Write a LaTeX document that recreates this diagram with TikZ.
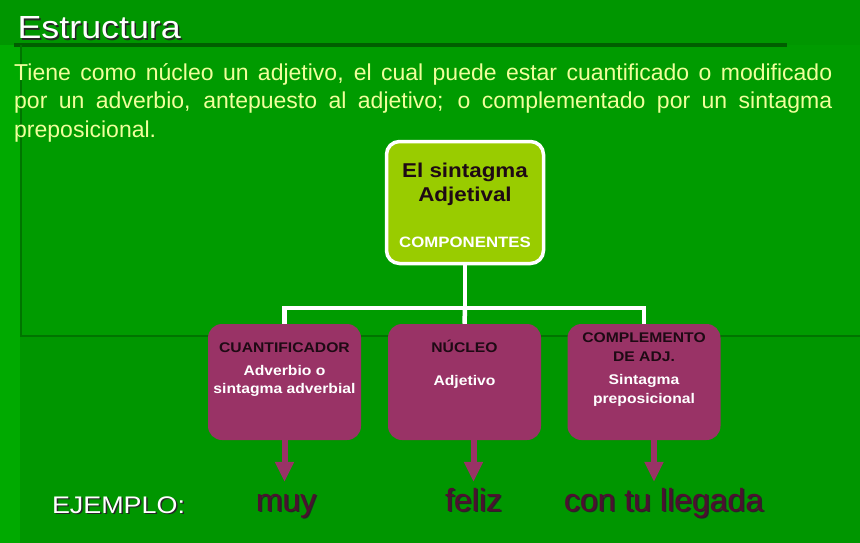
\documentclass[tikz,border=0pt]{standalone}
\usepackage{fontspec}
\setmainfont[FakeStretch=1.12]{Liberation Sans}
\newfontfamily\plainfont{Liberation Sans}
\usetikzlibrary{arrows.meta,positioning}

\definecolor{field}{HTML}{009600}
\definecolor{upper}{HTML}{009B00}
\definecolor{strip}{HTML}{00AA00}
\definecolor{rim}{HTML}{007400}
\definecolor{bar}{HTML}{005E00}
\definecolor{leaf}{HTML}{99CC00}
\definecolor{plum}{HTML}{993366}
\definecolor{wine}{HTML}{4E1030}
\definecolor{cream}{HTML}{F0FF9C}
\definecolor{ink}{HTML}{1E0A14}

\begin{document}
\begin{tikzpicture}[
x=1pt,y=-1pt,
>=stealth,
head/.style={rectangle,rounded corners=13pt,draw=white,line width=3.5pt,fill=leaf,minimum width=157pt,minimum height=122pt,inner sep=0pt,align=center},
thing/.style={rectangle,rounded corners=14pt,fill=plum,minimum width=153pt,minimum height=116pt,inner sep=0pt},
txt/.style={align=center,text=white,font=\bfseries\fontsize{14}{18.5}\selectfont},
line/.style={draw=white,line width=4.5pt},
line2/.style={draw=plum,line width=6pt,-{Triangle[width=18pt,length=20pt]}},
word/.style={anchor=base,inner sep=0pt,text height=29pt,text=wine,font=\plainfont\fontsize{32}{36}\selectfont},
ghost/.style={text=black!85,xshift=1.5pt,yshift=-1.5pt}
]

\useasboundingbox (0,0) rectangle (860,543);

% backdrop
\fill[field] (0,0) rectangle (860,543);
\fill[upper] (21,45) rectangle (860,336);
\fill[strip] (0,45) rectangle (20,543);
\draw[bar,line width=4pt] (14,45) -- (787,45);
\draw[rim,line width=2pt] (21,45) -- (21,336) -- (860,336);

% heading and text
\node[ghost,anchor=base west,font=\fontsize{32}{36}\selectfont] at (14,39) {Estructura};
\node (title) [anchor=base west,text=white,font=\fontsize{32}{36}\selectfont] at (14,39) {Estructura};
\node (p) [anchor=north west,inner sep=0pt,text width=818pt,align=justify,text=cream,font=\plainfont\fontsize{23}{28.5}\selectfont] at (14,63)
{Tiene como núcleo un adjetivo, el cual puede estar cuantificado o modificado\linebreak por un adverbio, antepuesto al adjetivo; o complementado por un sintagma\linebreak preposicional.};

% diagram
\node[head] (top) at (465,202.5) {};
\node (top1) at (465,205) [align=center,text=ink,font=\bfseries\fontsize{20}{24}\selectfont] {El sintagma\\ Adjetival\\[22pt] \textcolor{white}{\fontsize{15}{18}\selectfont COMPONENTES}};

\node[thing] (1) at (284.5,382) {};
\node[thing] (2) at (464.5,382) {};
\node[thing] (3) at (644,382) {};

\coordinate (f) at (465,308);
\path[line] (top.south) -- (f);
\path[line] (f) -| (1.north);
\path[line] (f) -- (2.north);
\path[line] (f) -| (3.north);

\node[txt] (t1) at (284.5,370) {\textcolor{ink}{CUANTIFICADOR}\\[4pt] Adverbio o\\ sintagma adverbial};
\node[txt] (t2) at (464.5,364) {\textcolor{ink}{NÚCLEO}\\[14pt] Adjetivo};
\node[txt] (t3) at (644,369.5) {\textcolor{ink}{COMPLEMENTO}\\ \textcolor{ink}{DE ADJ.}\\[5pt] Sintagma\\ preposicional};

% examples
\node[ghost,anchor=base,font=\fontsize{24}{28}\selectfont] at (118.5,513) {EJEMPLO:};
\node (ej) [anchor=base,text=white,font=\fontsize{24}{28}\selectfont] at (118.5,513) {EJEMPLO:};

\node[word,ghost] at (286,511) {muy};
\node[word,ghost] at (473.5,511) {feliz};
\node[word,ghost] at (663.5,511) {con tu llegada};
\node[word] (w1) at (286,511) {muy};
\node[word] (w2) at (473.5,511) {feliz};
\node[word] (w3) at (663.5,511) {con tu llegada};

\path[line2] (1.south) -- (1.south |- w1.north);
\path[line2] (w2.north |- 2.south) -- (w2.north);
\path[line2] ([xshift=10pt]3.south) -- ([xshift=10pt]3.south |- w3.north);

\end{tikzpicture}
\end{document}
